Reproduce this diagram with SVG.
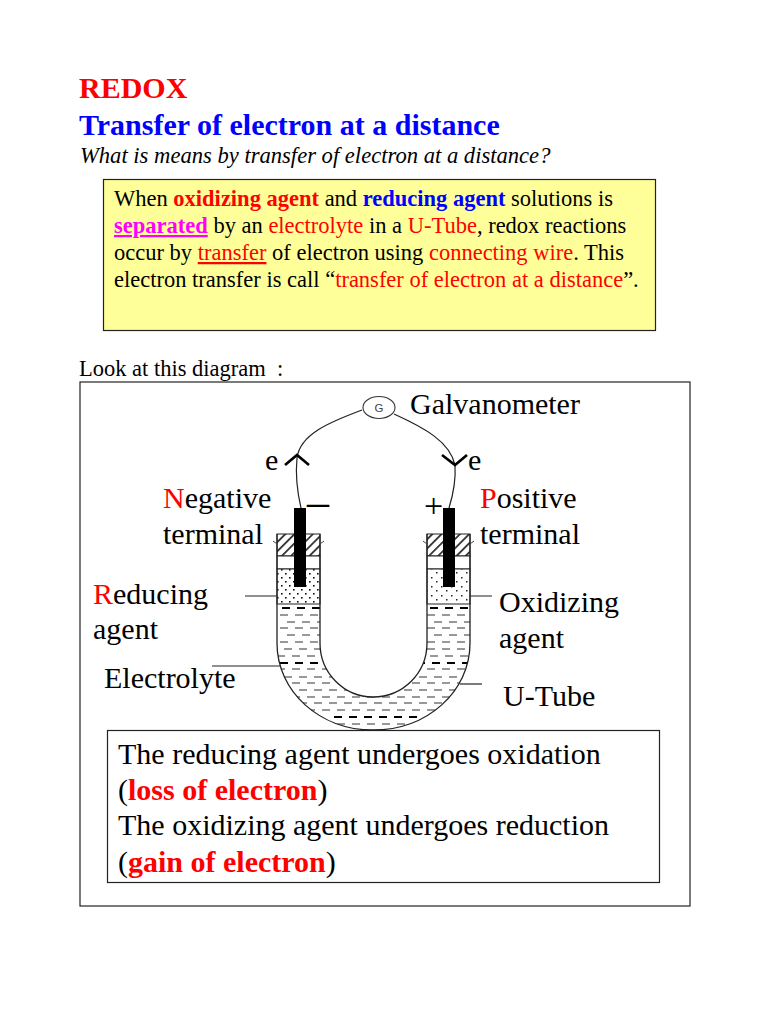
<svg xmlns="http://www.w3.org/2000/svg" width="768" height="1024" viewBox="0 0 768 1024">
<style>
text{font-family:"Liberation Serif","Times New Roman",serif;fill:#000}
.r{fill:#f00}.rb{fill:#f00;font-weight:bold}.bl{fill:#00f;font-weight:bold}
.b{font-size:22.5px}.d{font-size:30px}
.ln{fill:none;stroke:#222;stroke-width:1.2}
.da{fill:none;stroke:#333;stroke-width:1.2;stroke-dasharray:8 7}
.db{fill:none;stroke:#333;stroke-width:1.2;stroke-dasharray:8 7;stroke-dashoffset:8}
.dk{fill:none;stroke:#000;stroke-width:2;stroke-dasharray:8 7}
</style>
<defs>
<pattern id="hatch" width="6.500" height="6.500" patternUnits="userSpaceOnUse" patternTransform="rotate(-45)"><rect width="6.500" height="6.500" fill="#fff"/><rect width="6.500" height="1.800" fill="#333"/></pattern>
<pattern id="dots" width="8" height="8" patternUnits="userSpaceOnUse"><rect width="8" height="8" fill="#fff"/><rect x="1" y="1" width="1.600" height="1.600" fill="#111"/><rect x="5" y="5" width="1.600" height="1.600" fill="#111"/></pattern>
<pattern id="dots2" width="10" height="9" patternUnits="userSpaceOnUse"><rect width="10" height="9" fill="#fff"/><rect x="1" y="1" width="1.500" height="1.500" fill="#222"/><rect x="6" y="5" width="1.500" height="1.500" fill="#222"/></pattern>
<clipPath id="liq"><path d="M277 604V643C277 692 320 730 373 730C427 730 470 692 470 643V604H427V643C427 673 403 697 373 697C344 697 320 673 320 643V604Z"/></clipPath>
</defs>
<rect width="768" height="1024" fill="#fff"/>
<g id="heading">
<text x="79" y="98" font-size="30" font-weight="bold" class="r">REDOX</text>
<text x="79" y="135" font-size="30" font-weight="bold" style="fill:#00f">Transfer of electron at a distance</text>
<text x="80" y="163" font-size="22.6" font-style="italic">What is means by transfer of electron at a distance?</text>
</g>
<g id="definition-box">
<rect x="103.500" y="179.500" width="552" height="151" fill="#ffff99" stroke="#222" stroke-width="1.200"/>
<text class="b" x="114" y="206">When <tspan class="rb">oxidizing agent</tspan> and <tspan class="bl">reducing agent</tspan> solutions is</text>
<text class="b" x="114" y="233"><tspan style="fill:#f0f;font-weight:bold;text-decoration:underline">separated</tspan> by an <tspan class="r">electrolyte</tspan> in a <tspan class="r">U-Tube</tspan>, redox reactions</text>
<text class="b" x="114" y="260">occur by <tspan class="r" style="text-decoration:underline">transfer</tspan> of electron using <tspan class="r">connecting wire</tspan>. This</text>
<text class="b" x="114" y="287">electron transfer is call “<tspan class="r">transfer of electron at a distance</tspan>”.</text>
</g>
<text id="look" x="79" y="376" font-size="22.5" style="white-space:pre">Look at this diagram  :</text>
<g id="frame"><rect x="80" y="382" width="610" height="524" fill="#fff" stroke="#222" stroke-width="1.200"/></g>
<g id="connectors">
<path class="ln" d="M362 410C330 422 300 434 297 458C295 478 298 495 301 508"/>
<path class="ln" d="M394 414C425 428 450 442 455 465C456 480 453 495 449 508"/>
<path class="ln" d="M245 596H290"/>
<path class="ln" d="M458 596H492"/>
<path class="ln" d="M212 666H280"/>
<path class="ln" d="M460 684H482"/>
<path d="M285 465L297 455L309 465M442 455L455 465L467 455" fill="none" stroke="#000" stroke-width="2.600"/>
</g>
<g id="galvanometer">
<ellipse cx="379" cy="407.500" rx="16" ry="11" fill="#fff" stroke="#333" stroke-width="1.100"/>
<text x="379" y="412" font-size="11.500" text-anchor="middle" style="font-family:'Liberation Sans',sans-serif;fill:#444">G</text>
<text x="410" y="414" class="d">Galvanometer</text>
</g>
<g id="u-tube">
<rect x="277" y="534" width="43" height="22" fill="url(#hatch)" stroke="#222"/>
<rect x="427" y="534" width="43" height="22" fill="url(#hatch)" stroke="#222"/>
<rect x="277" y="556" width="43" height="13" fill="#fff" stroke="#222"/>
<rect x="427" y="556" width="43" height="13" fill="#fff" stroke="#222"/>
<rect x="277" y="569" width="43" height="35" fill="url(#dots)" stroke="#222"/>
<rect x="427" y="569" width="43" height="35" fill="url(#dots2)" stroke="#222"/>
<g clip-path="url(#liq)">
<path class="dk" d="M282 608H322M430 608H472"/>
<path class="da" d="M280 615H322M427 615H472M280 628H322M427 628H472M280 642H322M427 642H472M277 656H335M415 656H472M277 669H472M277 683H472M277 697H472M277 710H472M277 724H472"/>
<path class="db" d="M280 622H322M427 622H472M280 635H322M427 635H472M277 649H330M420 649H472M277 677H472M277 690H472M277 703H472"/>
<path class="dk" d="M280 663H335M417 663H472"/>
<path class="dk" d="M334 717H420"/>
</g>
<path d="M277 534V643C277 692 320 730 373 730C427 730 470 692 470 643V534M320 534V643C320 673 344 697 373 697C403 697 427 673 427 643V534" fill="none" stroke="#222" stroke-width="1.300"/>
<path d="M273 541L277 544M320 544L324 541M423 541L427 544M470 544L474 541" stroke="#444" fill="none"/>
<rect x="294" y="508" width="12" height="79" fill="#000"/>
<rect x="443" y="508" width="12" height="79" fill="#000"/>
</g>
<g id="labels">
<text x="265" y="470" class="d">e</text>
<text x="468" y="470" class="d">e</text>
<text x="163" y="508" class="d"><tspan class="r">N</tspan>egative</text>
<text x="163" y="544" class="d">terminal</text>
<text x="307" y="516" font-size="44">–</text>
<text x="424" y="517" font-size="34">+</text>
<text x="480" y="508" class="d"><tspan class="r">P</tspan>ositive</text>
<text x="480" y="544" class="d">terminal</text>
<text x="93" y="604" class="d"><tspan class="r">R</tspan>educing</text>
<text x="93" y="639" class="d">agent</text>
<text x="499" y="612" class="d">Oxidizing</text>
<text x="499" y="648" class="d">agent</text>
<text x="104" y="688" class="d">Electrolyte</text>
<text x="503" y="706" class="d">U-Tube</text>
</g>
<g id="summary-box">
<rect x="107.500" y="730.500" width="552" height="152" fill="#fff" stroke="#222" stroke-width="1.200"/>
<text x="118" y="764" class="d">The reducing agent undergoes oxidation</text>
<text x="118" y="800" class="d">(<tspan class="rb">loss of electron</tspan>)</text>
<text x="118" y="835" class="d">The oxidizing agent undergoes reduction</text>
<text x="118" y="872" class="d">(<tspan class="rb">gain of electron</tspan>)</text>
</g>
</svg>
